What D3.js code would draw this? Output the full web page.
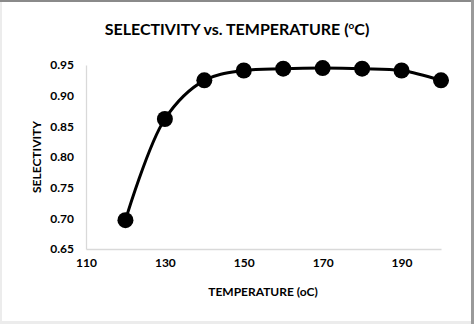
<!DOCTYPE html>
<html><head><meta charset="utf-8">
<script src="https://cdn.jsdelivr.net/npm/d3@7"></script>
<style>
html,body{margin:0;padding:0;background:#fff;}
svg{display:block;}
text{font-family:Lato,"Open Sans",sans-serif;font-weight:bold;fill:#000;}
</style></head>
<body>
<svg id="c" width="474" height="324"></svg>
<script>
const temperatures = [120, 130, 140, 150, 160, 170, 180, 190, 200];
const selectivity = [0.697, 0.862, 0.925, 0.941, 0.944, 0.945, 0.944, 0.941, 0.925];
const xTicks = [110, 130, 150, 170, 190];
const yTicks = [0.65, 0.70, 0.75, 0.80, 0.85, 0.90, 0.95];

const svg = d3.select("#c");
const W = 474, H = 324;
// frame
svg.append("rect").attr("x",0).attr("y",0).attr("width",W).attr("height",H).attr("fill","#fff");
svg.append("rect").attr("x",0).attr("y",0).attr("width",2).attr("height",H).attr("fill","#ececec");
svg.append("rect").attr("x",0).attr("y",H-3).attr("width",W).attr("height",3).attr("fill","#ececec");
svg.append("rect").attr("x",0).attr("y",0).attr("width",W).attr("height",2).attr("fill","#8a8a8a");
svg.append("rect").attr("x",W-3).attr("y",0).attr("width",3).attr("height",H).attr("fill","#9a9a9a");

const x = d3.scaleLinear().domain([110, 200]).range([86, 441]);
const y = d3.scaleLinear().domain([0.65, 0.95]).range([249, 65]);

// axes
const xAxis = d3.axisBottom(x).tickValues(xTicks).tickSize(0).tickPadding(9).tickFormat(d3.format("d"));
const gx = svg.append("g").attr("transform",`translate(0,${y(0.65)})`).call(xAxis);
gx.select(".domain").attr("stroke","#d9d9d9").attr("stroke-width",1.3);
gx.selectAll("text").attr("font-size",12).attr("font-family","Lato,sans-serif").attr("font-weight","bold").attr("fill","#000");

const yAxis = d3.axisLeft(y).tickValues(yTicks).tickSize(0).tickPadding(12).tickFormat(d3.format(".2f"));
const gy = svg.append("g").attr("transform",`translate(${x(110)},0)`).call(yAxis);
gy.select(".domain").attr("stroke","#d9d9d9").attr("stroke-width",1.3);
gy.selectAll("text").attr("font-size",12).attr("font-family","Lato,sans-serif").attr("font-weight","bold").attr("fill","#000");

// line
const pts = temperatures.map((t,i)=>[t, selectivity[i]]);
const line = d3.line().x(d=>x(d[0])).y(d=>y(d[1])).curve(d3.curveCatmullRom.alpha(0.5));
svg.append("path").datum(pts).attr("d",line).attr("fill","none").attr("stroke","#000").attr("stroke-width",3);
svg.selectAll("circle.pt").data(pts).enter().append("circle").attr("class","pt")
  .attr("cx",d=>x(d[0])).attr("cy",d=>y(d[1])).attr("r",8).attr("fill","#000");

// title
const title = svg.append("text").attr("x",237).attr("y",35).attr("text-anchor","middle").attr("font-size",16);
title.append("tspan").text("SELECTIVITY vs. TEMPERATURE (");
title.append("tspan").attr("font-size",10).attr("dy",-6).text("o");
title.append("tspan").attr("dy",6).text("C)");

// axis titles
svg.append("text").attr("x",263).attr("y",296).attr("text-anchor","middle").attr("font-size",12).text("TEMPERATURE (oC)");
svg.append("text").attr("transform","translate(41,157) rotate(-90)").attr("text-anchor","middle").attr("font-size",12).text("SELECTIVITY");
</script>
</body></html>
